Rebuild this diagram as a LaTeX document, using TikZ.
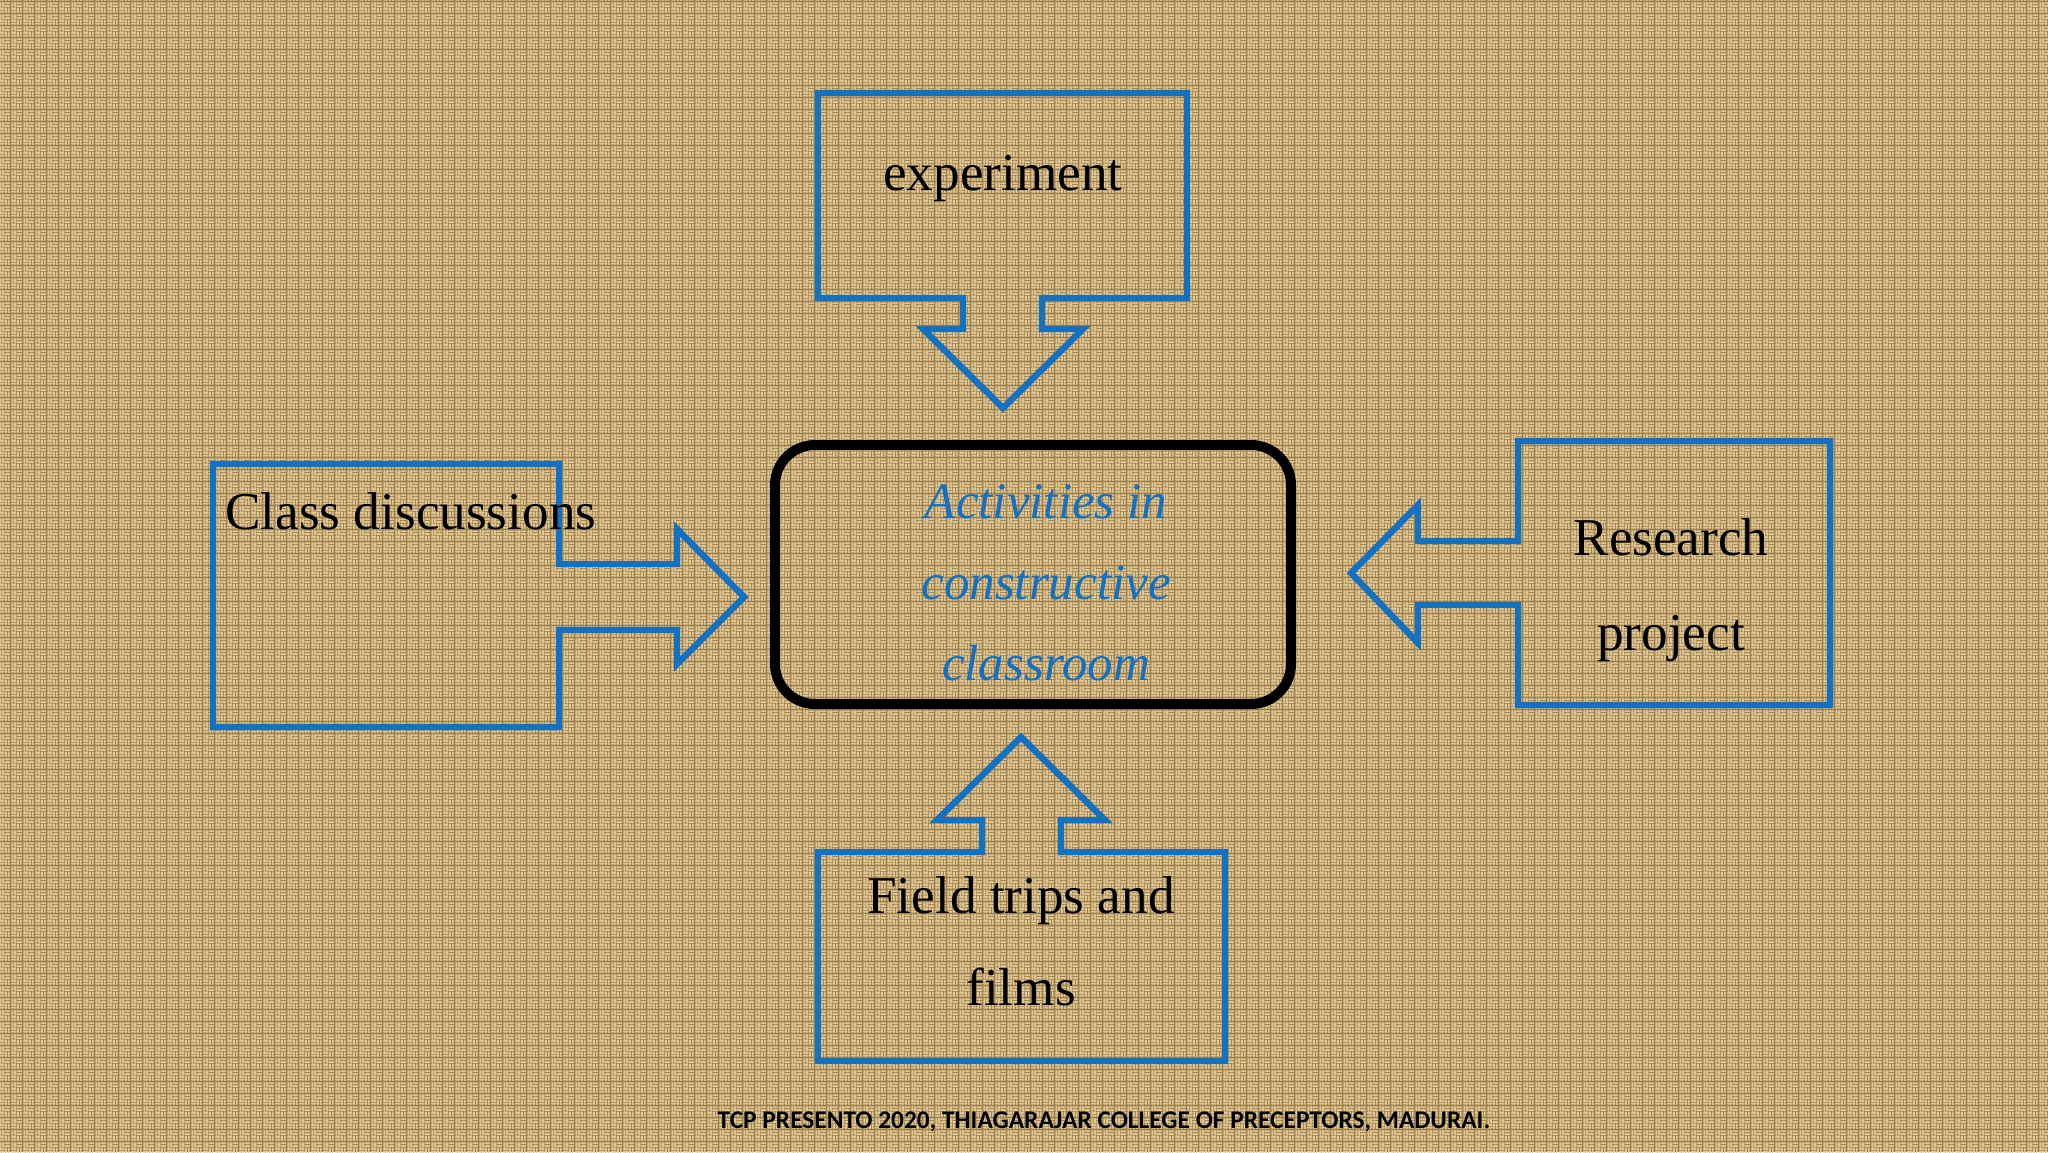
\documentclass[tikz,border=0pt]{standalone}
\usepackage{fontspec}
\setmainfont{Liberation Serif}
\newfontfamily\footfont{Carlito}
\usetikzlibrary{patterns}
\definecolor{burlapbase}{RGB}{158,128,78}
\definecolor{burlaplight}{RGB}{222,198,146}
\definecolor{calloutblue}{RGB}{20,112,192}
\definecolor{titleblue}{RGB}{20,112,192}
\pgfdeclarepatternformonly{weave}{\pgfpointorigin}{\pgfqpoint{6pt}{6pt}}{\pgfqpoint{6pt}{6pt}}{%
  \pgfsetlinewidth{1pt}%
  \pgfsetroundcap
  % bottom-left: horizontal threads
  \pgfpathmoveto{\pgfqpoint{0.4pt}{0.75pt}}\pgfpathlineto{\pgfqpoint{2.6pt}{0.75pt}}%
  \pgfpathmoveto{\pgfqpoint{0.4pt}{2.25pt}}\pgfpathlineto{\pgfqpoint{2.6pt}{2.25pt}}%
  % bottom-right: vertical threads
  \pgfpathmoveto{\pgfqpoint{3.75pt}{0.4pt}}\pgfpathlineto{\pgfqpoint{3.75pt}{2.6pt}}%
  \pgfpathmoveto{\pgfqpoint{5.25pt}{0.4pt}}\pgfpathlineto{\pgfqpoint{5.25pt}{2.6pt}}%
  % top-left: vertical threads
  \pgfpathmoveto{\pgfqpoint{0.75pt}{3.4pt}}\pgfpathlineto{\pgfqpoint{0.75pt}{5.6pt}}%
  \pgfpathmoveto{\pgfqpoint{2.25pt}{3.4pt}}\pgfpathlineto{\pgfqpoint{2.25pt}{5.6pt}}%
  % top-right: horizontal threads
  \pgfpathmoveto{\pgfqpoint{3.4pt}{3.75pt}}\pgfpathlineto{\pgfqpoint{5.6pt}{3.75pt}}%
  \pgfpathmoveto{\pgfqpoint{3.4pt}{5.25pt}}\pgfpathlineto{\pgfqpoint{5.6pt}{5.25pt}}%
  \pgfusepath{stroke}%
}
\tikzset{
  callout/.style={draw=calloutblue, line width=3.2pt, line join=miter},
  centerbox/.style={draw=black, line width=5pt, rounded corners=20pt},
  blacktext/.style={inner sep=0pt, font=\fontsize{26.6}{46}\selectfont, text=black},
  bluetext/.style={inner sep=0pt, font=\fontsize{25.5}{40}\selectfont\itshape, text=titleblue},
  foottext/.style={inner sep=0pt, font=\footfont\bfseries\fontsize{12.7}{14}\selectfont, text=black}
}
\begin{document}
\begin{tikzpicture}[x=0.5pt,y=-0.5pt]
\useasboundingbox (0,0) rectangle (2048,1152);
\fill[burlapbase] (0,0) rectangle (2048,1152);
\fill[pattern=weave, pattern color=burlaplight] (0,0) rectangle (2048,1152);

% central rounded box
\draw[centerbox] (775,445) rectangle (1291,704);
\coordinate (center) at (1033,574);

% top callout: experiment
\draw[callout] (818,93) -- (1187,93) -- (1187,298) -- (1042,298) -- (1042,329)
  -- (1083,329) -- (1003,408) -- (923,329) -- (963,329) -- (963,298) -- (818,298) -- cycle;
% left callout: class discussions
\draw[callout] (213,464) -- (559,464) -- (559,564) -- (677,564) -- (677,529)
  -- (744,597) -- (677,664) -- (677,630) -- (559,630) -- (559,727) -- (213,727) -- cycle;
% right callout: research project
\draw[callout] (1830,441) -- (1518,441) -- (1518,541) -- (1418,541) -- (1418,505)
  -- (1351,573) -- (1418,643) -- (1418,605) -- (1518,605) -- (1518,705) -- (1830,705) -- cycle;
% bottom callout: field trips and films
\draw[callout] (818,1061) -- (1225,1061) -- (1225,852) -- (1061,852) -- (1061,820)
  -- (1105,820) -- (1021,737) -- (937,820) -- (982,820) -- (982,852) -- (818,852) -- cycle;

% texts
\node[blacktext, anchor=base] (exp) at (1003,190) {experiment};
\node[blacktext, anchor=base west] (cls) at (225,529) {Class discussions};
\node[blacktext, anchor=base] (res1) at (1671,555) {Research};
\node[blacktext, anchor=base] (res2) at (1671,650) {project};
\node[blacktext, anchor=base] (fld1) at (1021,913) {Field trips and};
\node[blacktext, anchor=base] (fld2) at (1021,1005) {films};

\node[bluetext, anchor=base] (act1) at (1046,518) {Activities in};
\node[bluetext, anchor=base] (act2) at (1046,599) {constructive};
\node[bluetext, anchor=base] (act3) at (1046,680) {classroom};

\node[foottext, anchor=base] (foot) at (1104,1128) {TCP PRESENTO 2020, THIAGARAJAR COLLEGE OF PRECEPTORS, MADURAI.};
\end{tikzpicture}
\end{document}
